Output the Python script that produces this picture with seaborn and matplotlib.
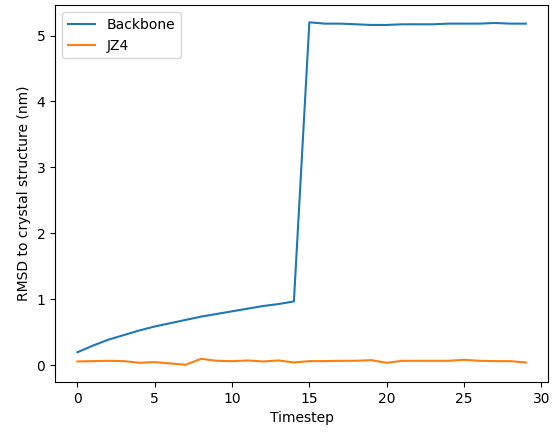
import matplotlib
matplotlib.use('Agg')
import matplotlib.pyplot as plt
import seaborn as sns
import numpy as np

timestep = np.arange(30)
backbone = [0.20, 0.30, 0.39, 0.46, 0.53, 0.59, 0.64, 0.69, 0.74, 0.78,
            0.82, 0.86, 0.90, 0.93, 0.97, 5.20, 5.18, 5.18, 5.17, 5.16,
            5.16, 5.17, 5.17, 5.17, 5.18, 5.18, 5.18, 5.19, 5.18, 5.18]
jz4 = [0.06, 0.065, 0.07, 0.065, 0.04, 0.05, 0.03, 0.01, 0.10, 0.07,
       0.065, 0.075, 0.06, 0.075, 0.045, 0.065, 0.065, 0.07, 0.07, 0.08,
       0.04, 0.07, 0.07, 0.07, 0.07, 0.085, 0.07, 0.065, 0.065, 0.045]

fig, ax = plt.subplots(figsize=(5.56, 4.32), dpi=100)
sns.lineplot(x=timestep, y=backbone, ax=ax, label='Backbone')
sns.lineplot(x=timestep, y=jz4, ax=ax, label='JZ4')
ax.set_xlabel('Timestep')
ax.set_ylabel('RMSD to crystal structure (nm)')
ax.legend(loc='upper left')
fig.subplots_adjust(left=0.099, right=0.986, top=0.988, bottom=0.116)
fig.savefig('out.png')
